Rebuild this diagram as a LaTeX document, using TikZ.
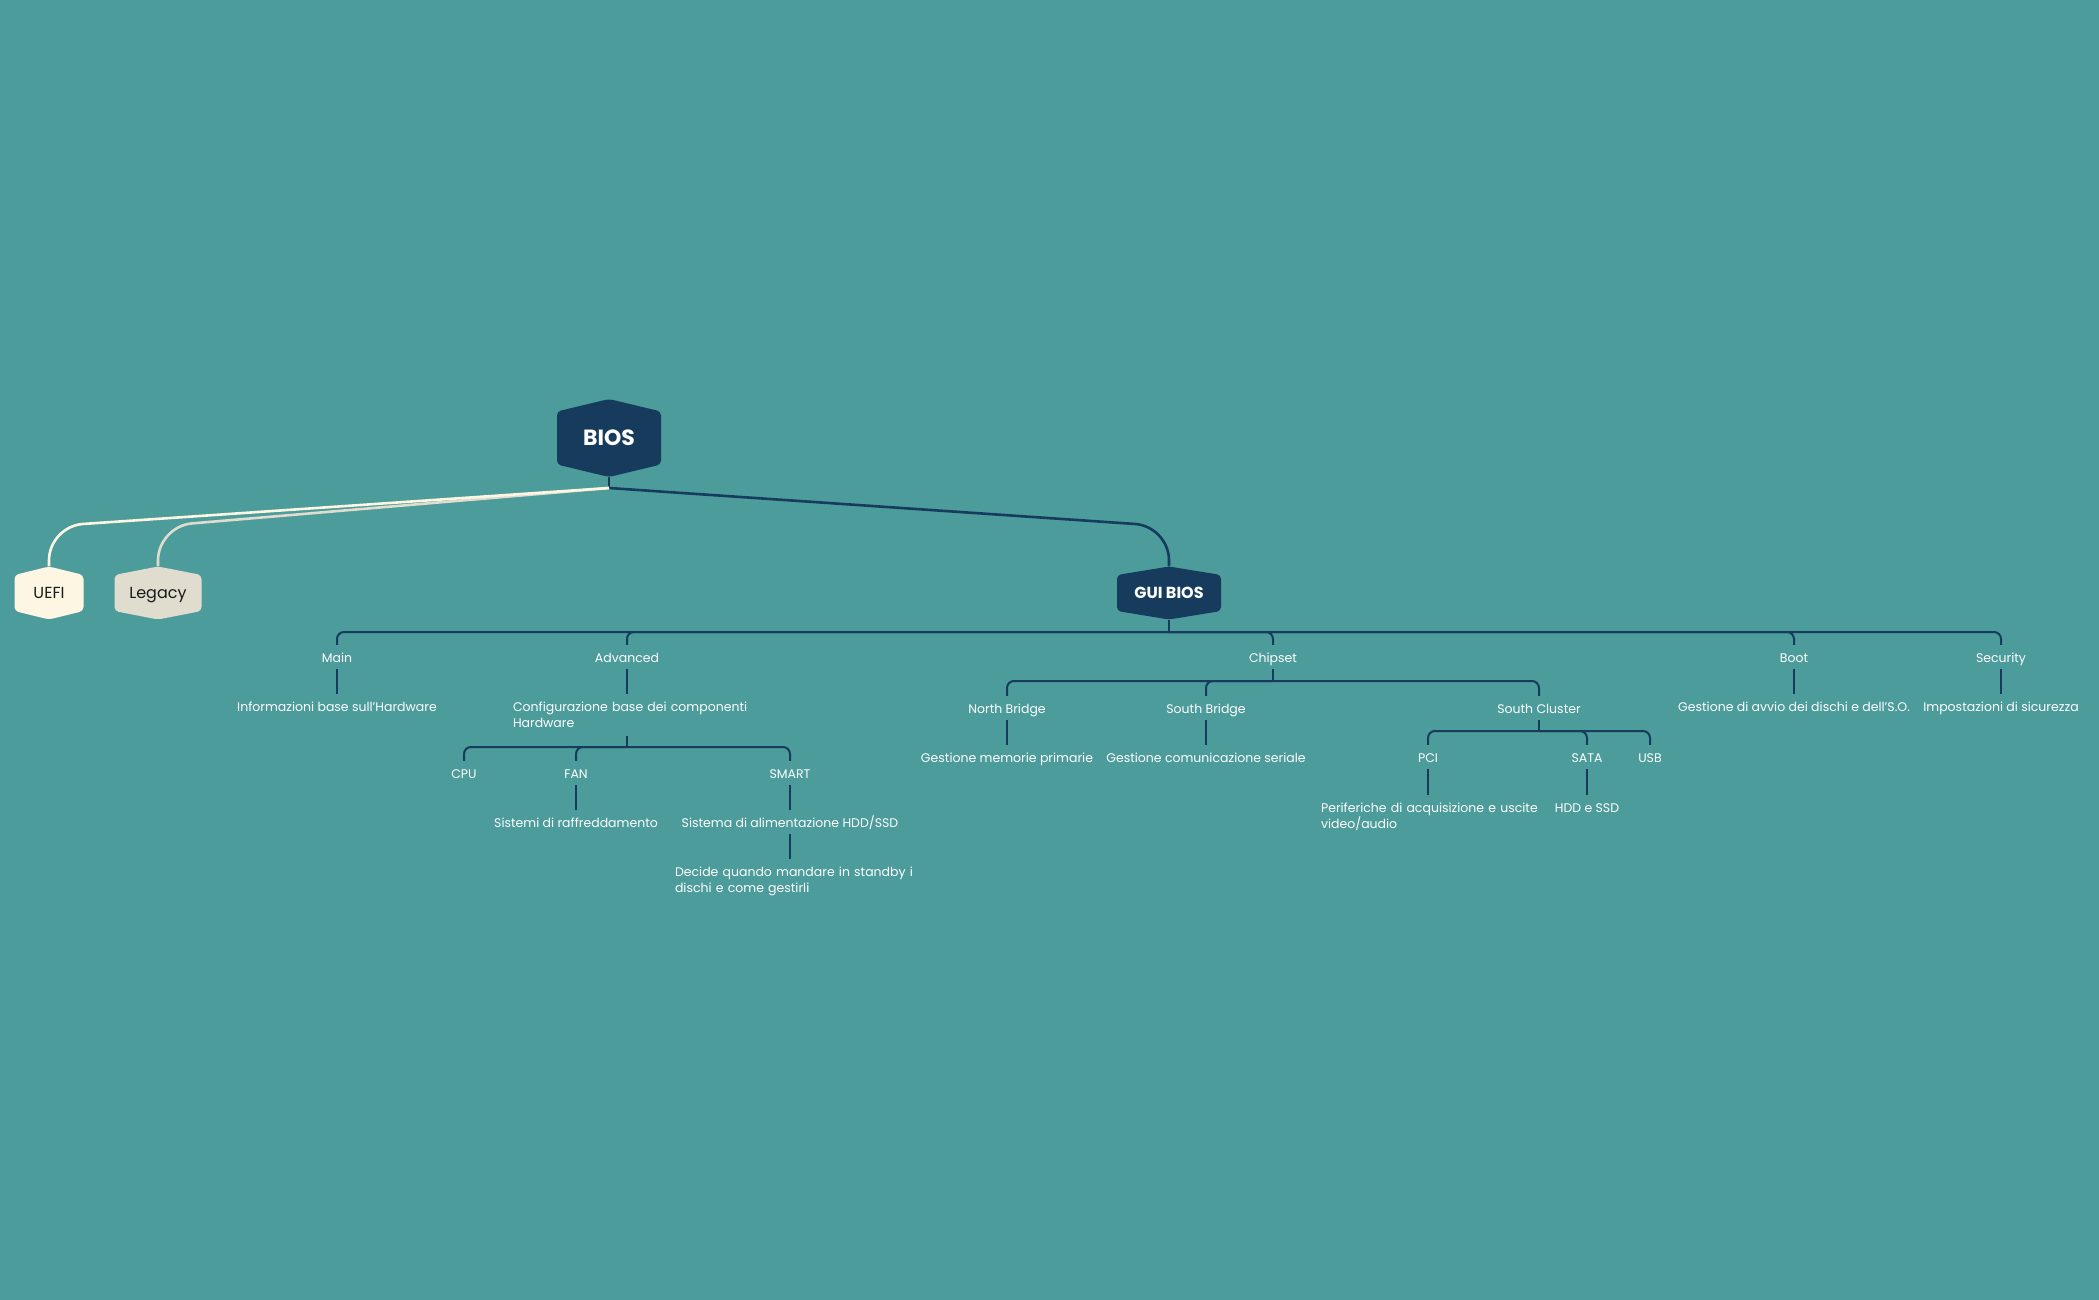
\documentclass[tikz,border=0pt]{standalone}
\usepackage{fontspec}
\setmainfont{Poppins}
\pgfdeclarelayer{background}
\pgfsetlayers{background,main}
\definecolor{bg}{HTML}{4C9C9C}
\definecolor{navy}{HTML}{163B5C}
\definecolor{cream}{HTML}{FDF6E3}
\definecolor{beige}{HTML}{E0DDCF}
\newcommand\hexfill[5]{%
  \fill[#5, rounded corners=4pt, shift={(#1)}] (0,-#3) -- (#2,-#4) -- (#2,#4) -- (0,#3) -- (-#2,#4) -- (-#2,-#4) -- cycle;}
\begin{document}
\begin{tikzpicture}[x=1pt,y=-1pt,
  lbl/.style={text=white, font=\fontsize{12.5}{16}\selectfont, inner xsep=0pt, inner ysep=6pt, text height=11pt, text depth=1pt},
  para/.style={text=white, font=\fontsize{12.5}{16}\selectfont, inner xsep=0pt, inner ysep=8pt, align=left, anchor=north},
  hexnode/.style={inner sep=0pt, text depth=0pt},
  conn/.style={draw=navy, line width=2pt},
  branch/.style={conn, rounded corners=7pt},
  topline/.style={line width=2.6pt, rounded corners=34pt},
]
\begin{pgfonlayer}{background}
\fill[bg] (0,0) rectangle (2099,1300);
\end{pgfonlayer}
\useasboundingbox (0,0) rectangle (2099,1300);

% top-level hexagons
\node[hexnode, minimum width=104pt, minimum height=78pt, text=white, font=\fontsize{22}{24}\selectfont\bfseries, text height=15pt] (bios) at (609,438) {BIOS};
\node[hexnode, minimum width=69pt, minimum height=53pt, text=black!90, font=\fontsize{16}{18}\selectfont, text height=11pt] (uefi) at (49,593) {UEFI};
\node[hexnode, minimum width=87pt, minimum height=53pt, text=black!90, font=\fontsize{16}{18}\selectfont, text height=11pt] (legacy) at (158,593) {Legacy};
\node[hexnode, minimum width=104pt, minimum height=53pt, text=white, font=\fontsize{16}{18}\selectfont\bfseries, text height=11pt] (gui) at (1169,593) {GUI BIOS};
\begin{pgfonlayer}{background}
\hexfill{bios.center}{52}{39}{26.5}{navy}
\hexfill{uefi.center}{34.5}{26.5}{18}{cream}
\hexfill{legacy.center}{43.5}{26.5}{18}{beige}
\hexfill{gui.center}{52}{26.5}{18}{navy}
\end{pgfonlayer}

\coordinate (bj) at (609,488);
\draw[navy, line width=2.6pt] (bios.south) -- (bj);
\draw[topline, draw=navy] (bj) -- ([yshift=40pt]gui.north) -- (gui.north);
\draw[topline, draw=beige] (bj) -- ([yshift=40pt]legacy.north) -- (legacy.north);
\draw[topline, draw=cream] (bj) -- ([yshift=40pt]uefi.north) -- (uefi.north);

% first level
\node[lbl] (main) at (337,657) {Main};
\node[lbl] (adv) at (627,657) {Advanced};
\node[lbl] (chip) at (1273,657) {Chipset};
\node[lbl] (boot) at (1794,657) {Boot};
\node[lbl] (sec) at (2001,657) {Security};

\coordinate (gj) at (1169,632);
\draw[conn] (gui.south) -- (gj);
\foreach \c in {main,adv,chip,boot,sec} \draw[branch] (gj) -| (\c.north);

% descriptions
\node[lbl] (info) at (337,706) {Informazioni base sull'Hardware};
\draw[conn] (main.south) -- (info.north);
\node[para, text width=228pt] (conf) at (627,694) {\mbox{Configurazione base dei componenti}\\\mbox{Hardware}};
\draw[conn] (adv.south) -- (conf.north);
\node[lbl] (bootd) at (1794,706) {Gestione di avvio dei dischi e dell'S.O.};
\draw[conn] (boot.south) -- (bootd.north);
\node[lbl] (secd) at (2001,706) {Impostazioni di sicurezza};
\draw[conn] (sec.south) -- (secd.north);

% Advanced subtree
\node[lbl] (cpu) at (464,773) {CPU};
\node[lbl] (fan) at (576,773) {FAN};
\node[lbl] (smart) at (790,773) {SMART};
\coordinate (aj) at (627,747);
\draw[conn] (conf.south) -- (aj);
\foreach \c in {cpu,fan,smart} \draw[branch] (aj) -| (\c.north);
\node[lbl] (fand) at (576,822) {Sistemi di raffreddamento};
\draw[conn] (fan.south) -- (fand.north);
\node[lbl] (smartd) at (790,822) {Sistema di alimentazione HDD/SSD};
\draw[conn] (smart.south) -- (smartd.north);
\node[para, text width=230pt] (decide) at (790,859) {\mbox{Decide quando mandare in standby i}\\\mbox{dischi e come gestirli}};
\draw[conn] (smartd.south) -- (decide.north);

% Chipset subtree
\node[lbl] (nb) at (1007,708) {North Bridge};
\node[lbl] (sb) at (1206,708) {South Bridge};
\node[lbl] (sc) at (1539,708) {South Cluster};
\coordinate (cj) at (1273,681);
\draw[conn] (chip.south) -- (cj);
\foreach \c in {nb,sb,sc} \draw[branch] (cj) -| (\c.north);
\node[lbl] (nbd) at (1007,757) {Gestione memorie primarie};
\draw[conn] (nb.south) -- (nbd.north);
\node[lbl] (sbd) at (1206,757) {Gestione comunicazione seriale};
\draw[conn] (sb.south) -- (sbd.north);

% South Cluster subtree
\node[lbl] (pci) at (1428,757) {PCI};
\node[lbl] (sata) at (1587,757) {SATA};
\node[lbl] (usb) at (1650,757) {USB};
\coordinate (scj) at (1539,731);
\draw[conn] (sc.south) -- (scj);
\foreach \c in {pci,sata,usb} \draw[branch] (scj) -| (\c.north);
\node[para, text width=214pt] (pcid) at (1428,795) {\mbox{Periferiche di acquisizione e uscite}\\\mbox{video/audio}};
\draw[conn] (pci.south) -- (pcid.north);
\node[lbl] (satad) at (1587,807) {HDD e SSD};
\draw[conn] (sata.south) -- (satad.north);
\end{tikzpicture}
\end{document}
